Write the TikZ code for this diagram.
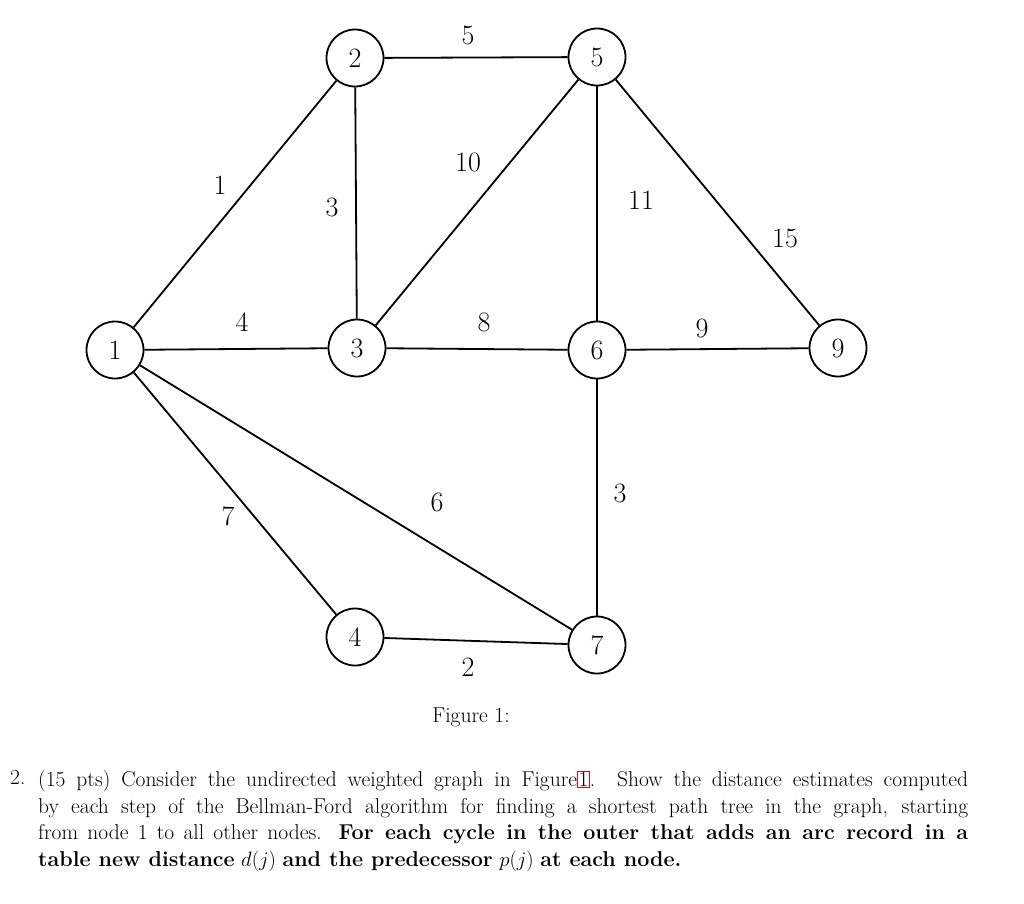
\documentclass[tikz,border=0pt]{standalone}
\usepackage{fontspec}
\begin{document}
\begin{tikzpicture}[x=1pt,y=-1pt,
  vtx/.style={circle,draw,line width=1.8pt,minimum size=57pt,inner sep=0pt,font=\fontsize{28}{28}\selectfont},
  edge/.style={line width=1.8pt},
  wt/.style={font=\fontsize{28}{28}\selectfont}]
\useasboundingbox (0,0) rectangle (1024,903);
\node[vtx] (n1) at (115,350) {1};
\node[vtx] (n2) at (355,58) {2};
\node[vtx] (n3) at (357,348) {3};
\node[vtx] (n4) at (355,637) {4};
\node[vtx] (n5) at (597,57) {5};
\node[vtx] (n6) at (597,350) {6};
\node[vtx] (n7) at (597,645) {7};
\node[vtx] (n9) at (838,348) {9};
\draw[edge] (n1)--(n2); \draw[edge] (n1)--(n3); \draw[edge] (n1)--(n4); \draw[edge] (n1)--(n7);
\draw[edge] (n2)--(n5); \draw[edge] (n2)--(n3); \draw[edge] (n3)--(n5); \draw[edge] (n3)--(n6);
\draw[edge] (n5)--(n6); \draw[edge] (n5)--(n9); \draw[edge] (n6)--(n9); \draw[edge] (n6)--(n7);
\draw[edge] (n4)--(n7);
\node[wt] (w1) at (468,35) {5};
\node[wt] (w2) at (468,162) {10};
\node[wt] (w3) at (220,185) {1};
\node[wt] (w4) at (332,207) {3};
\node[wt] (w5) at (641,200) {11};
\node[wt] (w6) at (785,238) {15};
\node[wt] (w7) at (242,322) {4};
\node[wt] (w8) at (484,322) {8};
\node[wt] (w9) at (702,328) {9};
\node[wt] (w10) at (437,502) {6};
\node[wt] (w11) at (620,493) {3};
\node[wt] (w12) at (228,516) {7};
\node[wt] (w13) at (468,667) {2};
\node[font=\fontsize{21.5}{24}\selectfont] (cap) at (471,717) {Figure 1:};
\node[font=\fontsize{21.5}{26.7}\selectfont,anchor=north west,inner sep=0pt] (num) at (10,770) {2.};
\node[font=\fontsize{21.5}{26.7}\selectfont,anchor=north west,text width=930pt,align=justify,inner sep=0pt] (txt) at (38,770)
{(15 pts) Consider the undirected weighted graph in Figure{\color{red}\fboxsep=1pt\fbox{\color{black}1}}. Show the distance estimates computed\linebreak
by each step of the Bellman-Ford algorithm for finding a shortest path tree in the graph, starting\linebreak
from node 1 to all other nodes. \textbf{For each cycle in the outer that adds an arc record in a}\linebreak
\textbf{table new distance} $d(j)$ \textbf{and the predecessor} $p(j)$ \textbf{at each node.}};
\end{tikzpicture}
\end{document}
